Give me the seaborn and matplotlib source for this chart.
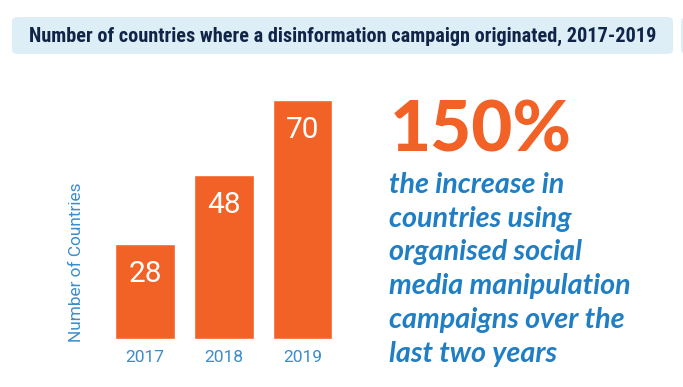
import matplotlib
matplotlib.use("Agg")
import matplotlib.pyplot as plt
from matplotlib.patches import FancyBboxPatch
import seaborn as sns
import pandas as pd
from matplotlib import font_manager

years = ["2017", "2018", "2019"]
countries = [28, 48, 70]
title = "Number of countries where a disinformation campaign originated, 2017-2019"
ylabel = "Number of Countries"
big_stat = "150%"
stat_lines = ["the increase in", "countries using", "organised social",
              "media manipulation", "campaigns over the", "last two years"]

ORANGE = "#F26125"
BLUE = "#1F7EC4"
TICKBLUE = "#3A8DCC"
NAVY = "#102447"
BOX = "#DDEEF6"

sns.set_theme(style="white")
plt.rcParams['font.family'] = ['Roboto', 'DejaVu Sans']

W, H = 683, 387
fig = plt.figure(figsize=(W / 100, H / 100), dpi=100)
fig.patch.set_facecolor("white")

def px(x, y):
    return x / W, 1 - y / H

# Title box
box = FancyBboxPatch(px(12, 54), (673 - 12) / W, (54 - 17) / H,
                     boxstyle="round,pad=0,rounding_size=0.01",
                     transform=fig.transFigure, facecolor=BOX, edgecolor="none")
fig.patches.append(box)
box2 = FancyBboxPatch(px(681, 54), 0.03, (54 - 17) / H,
                      boxstyle="round,pad=0,rounding_size=0.01",
                      transform=fig.transFigure, facecolor=BOX, edgecolor="none")
fig.patches.append(box2)

names = {f.name for f in font_manager.fontManager.ttflist}
tfam = ['Liberation Sans Narrow', 'Roboto'] if 'Liberation Sans Narrow' in names else ['Roboto Condensed', 'Roboto']
t = fig.text(*px(342.5, 36), title, ha="center", va="center", color=NAVY,
             fontsize=14, fontweight="bold", family=tfam)
fig.canvas.draw()
w = t.get_window_extent().width
t.set_fontsize(14 * 631 / w)

# Bar chart
ax = fig.add_axes([105.8 / W, (H - 339.3) / H, 236.25 / W, 239 / H])
df = pd.DataFrame({"year": years, "countries": countries})
sns.barplot(data=df, x="year", y="countries", color=ORANGE, saturation=1,
            width=0.756, ax=ax)
ax.set_xlim(-0.5, 2.5)
ax.set_ylim(0, 70)
ax.set_facecolor("none")
for s in ax.spines.values():
    s.set_visible(False)
ax.set_yticks([])
ax.set_xlabel("")
ax.set_ylabel("")
ax.tick_params(axis="x", length=0, pad=8, labelsize=12.5, labelcolor=TICKBLUE)
for i, v in enumerate(countries):
    ax.annotate(str(v), (i, v), xytext=(0, -30), textcoords="offset pixels",
                ha="center", va="center", color="white", fontsize=21.5)

fig.text(*px(76.7, 262), ylabel, rotation=90, ha="center", va="center",
         color=TICKBLUE, fontsize=12.4)

# Right-hand statistic
fig.text(*px(390, 151), big_stat, ha="left", va="baseline", color=ORANGE,
         fontsize=51, fontweight="black", family=['Lato', 'DejaVu Sans'])
for i, line in enumerate(stat_lines):
    fig.text(*px(389, 192.7 + i * 33.8), line, ha="left", va="baseline",
             color=BLUE, fontsize=20.7, fontweight="bold", style="italic",
             family=['Lato', 'DejaVu Sans'])

fig.savefig("out.png", dpi=100)
